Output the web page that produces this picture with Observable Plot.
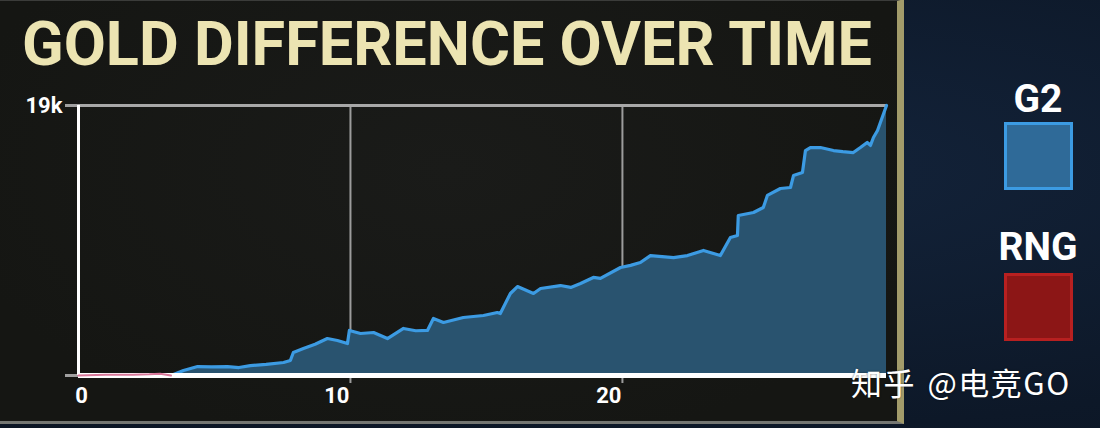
<!DOCTYPE html>
<html>
<head>
<meta charset="utf-8">
<script src="https://cdn.jsdelivr.net/npm/d3@7"></script>
<script src="https://cdn.jsdelivr.net/npm/@observablehq/plot@0.6"></script>
<style>
  html, body { margin: 0; padding: 0; background: #0e1a2b; }
  #wrap { position: relative; width: 1100px; height: 428px; overflow: hidden;
          background: radial-gradient(ellipse at 70% 40%, #13233a 0%, #0d1828 70%, #0b1524 100%); }
  #panel { position: absolute; left: 0; top: -1px; width: 897px; height: 420px;
           background: radial-gradient(ellipse at 50% 40%, #1a1b19 0%, #151613 80%);
           border-right: 7px solid #a29b6a; border-bottom: 3px solid #747672; border-top: 2px solid #3b3c3a; }
  #title { position: absolute; left: 0; top: 0; }
  #chart { position: absolute; left: 0; top: 0; }
  .leg { position: absolute; color: #fff; font-family: Roboto, "DejaVu Sans", sans-serif; font-weight: 700;
         font-size: 39px; text-align: center; width: 120px; line-height: 1; }
  .sw { position: absolute; box-sizing: border-box; width: 69px; height: 68px; }
  #wm { position: absolute; left: 851px; top: 359px; color: #fff; font-family: "Noto Sans CJK SC", sans-serif;
        font-size: 31px; white-space: nowrap; text-shadow: 0 0 2px rgba(0,0,0,0.6); letter-spacing: 1.5px; word-spacing: 3px; }
</style>
</head>
<body>
<div id="wrap">
  <div id="panel"></div>
  <svg id="title" width="900" height="80">
    <text id="titleText" x="22" y="65" fill="#ece4b2" font-family="Roboto, 'DejaVu Sans', sans-serif"
          font-weight="700" font-size="62" textLength="850" lengthAdjust="spacingAndGlyphs"></text>
  </svg>
  <div id="chart"></div>
  <div id="legend"></div>
  <div id="wm"></div>
</div>
<script>
// ---- data ----
const titleLabel = "GOLD DIFFERENCE OVER TIME";
const watermark = "知乎 @电竞GO";
const teams = ["G2", "RNG"];
const teamColors = ["#3c9be3", "#b82020"];

const g2Minutes = [3.4, 3.86, 4.38, 4.9, 5.48, 5.9, 6.32, 6.9, 7.54, 7.79, 7.9, 8.27, 8.7, 9.15, 9.52, 9.89, 9.96,
  10.37, 10.85, 11.36, 11.95, 12.4, 12.83, 13.05, 13.42, 14.15, 14.89, 15.4, 15.51, 15.88, 16.14, 16.73, 16.99,
  17.72, 18.1, 18.46, 18.93, 19.19, 19.93, 20.3, 20.66, 21.03, 21.88, 22.39, 22.98, 23.6, 23.97, 24.23, 24.26,
  24.82, 25.18, 25.33, 25.81, 26.18, 26.29, 26.62, 26.73, 26.91, 27.28, 27.76, 28.1, 28.49, 28.75, 29.0, 29.12,
  29.23, 29.38, 29.71];
const g2Gold = [0, 350, 630, 600, 630, 560, 700, 780, 915, 1055, 1620, 1900, 2200, 2600, 2460, 2250, 3170,
  2955, 3025, 2600, 3310, 3150, 3170, 4010, 3730, 4080, 4220, 4430, 4360, 5770, 6260, 5770, 6120,
  6330, 6200, 6470, 6900, 6830, 7600, 7750, 7950, 8440, 8300, 8440, 8800, 8440, 9710, 9850, 11260,
  11470, 11820, 12670, 13160, 13230, 14070, 14290, 15830, 16040, 16040, 15830, 15750, 15690, 16040, 16400, 16190,
  16750, 17240, 19000];

const rngMinutes = [0, 1, 2, 2.6, 3, 3.4];
const rngGold = [0, 60, 50, 80, 120, 0];

const xTicks = [0, 10, 20];
const xTickLabels = ["0", "10", "20"];
const yTicks = [0, 19000];
const yTickLabels = ["", "19k"];
const xMax = 29.71;
const yMax = 19000;

// ---- build ----
document.getElementById("titleText").textContent = titleLabel;
document.getElementById("wm").textContent = watermark;

const g2 = g2Minutes.map((m, i) => ({minute: m, gold: g2Gold[i]}));
const rng = rngMinutes.map((m, i) => ({minute: m, gold: rngGold[i]}));

const font = "Roboto, 'DejaVu Sans', sans-serif";
const chart = Plot.plot({
  width: 900,
  height: 428,
  marginLeft: 78,
  marginRight: 14,
  marginTop: 105,
  marginBottom: 53,
  style: {background: "transparent", color: "#fff", fontFamily: font, fontSize: "22px", fontWeight: 700},
  x: {domain: [0, xMax]},
  y: {domain: [0, yMax]},
  marks: [
    Plot.gridX(xTicks.slice(1), {stroke: "#9c9c9c", strokeOpacity: 1, strokeWidth: 2}),
    Plot.gridY([yMax], {stroke: "#a8a8a8", strokeOpacity: 1, strokeWidth: 3}),
    Plot.areaY(g2, {x: "minute", y: "gold", fill: "#29536f", fillOpacity: 1}),
    Plot.lineY(g2, {x: "minute", y: "gold", stroke: teamColors[0], strokeWidth: 3.2, strokeLinejoin: "round"}),
    // y axis ticks and label
    Plot.axisY(yTicks, {tickSize: 13, stroke: "#a0a0a0", strokeWidth: 3, tickPadding: 3,
      tickFormat: d => yTickLabels[yTicks.indexOf(d)], fill: "#fff", fontSize: 22, fontWeight: 700, label: null}),
    // x axis tick marks
    Plot.axisX(xTicks.slice(1), {tickSize: 8, stroke: "#9c9c9c", strokeWidth: 2, tickFormat: () => "", label: null}),
    // x tick labels
    Plot.axisX(xTicks.slice(1), {tickSize: 0, tickPadding: 12, textAnchor: "end", dx: -1,
      tickFormat: d => xTickLabels[xTicks.indexOf(d)], fill: "#fff", fontSize: 22, fontWeight: 700, label: null}),
    Plot.axisX(xTicks.slice(0, 1), {tickSize: 0, tickPadding: 12, textAnchor: "middle", dx: 3,
      tickFormat: d => xTickLabels[xTicks.indexOf(d)], fill: "#fff", fontSize: 22, fontWeight: 700, label: null}),
    Plot.ruleY([0], {stroke: "#ffffff", strokeWidth: 5}),
    Plot.ruleX([0], {stroke: "#ffffff", strokeWidth: 3}),
    Plot.lineY(rng, {x: "minute", y: "gold", stroke: "#d9789a", strokeWidth: 2})
  ]
});
document.getElementById("chart").appendChild(chart);

// legend
const legend = document.getElementById("legend");
const legendLayout = [{labelTop: 80, boxTop: 122}, {labelTop: 228, boxTop: 273}];
const swatchFill = ["#2f6a98", "#8c1616"];
teams.forEach((t, i) => {
  const lab = document.createElement("div");
  lab.className = "leg";
  lab.style.left = "978px";
  lab.style.top = legendLayout[i].labelTop + "px";
  lab.textContent = t;
  legend.appendChild(lab);
  const sw = document.createElement("div");
  sw.className = "sw";
  sw.style.left = "1004px";
  sw.style.top = legendLayout[i].boxTop + "px";
  sw.style.background = swatchFill[i];
  sw.style.border = "3px solid " + teamColors[i];
  legend.appendChild(sw);
});
</script>
</body>
</html>
